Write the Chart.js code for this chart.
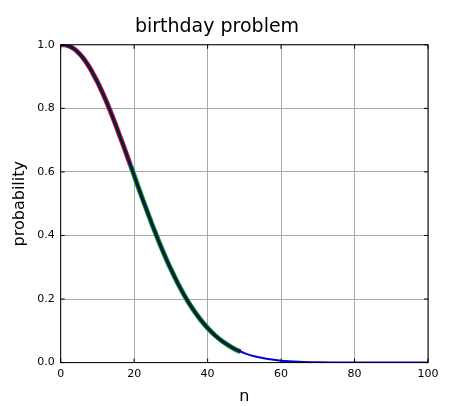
<!DOCTYPE html>
<html><head><script src="https://cdn.jsdelivr.net/npm/chart.js@4"></script>
<style>body{margin:0;background:#fff}#w{width:474px;height:406px}</style></head>
<body><div id="w"><canvas id="c"></canvas></div>
<script>
const nValues = [0,1,2,3,4,5,6,7,8,9,10,11,12,13,14,15,16,17,18,19,20,21,22,23,24,25,26,27,28,29,30,32,34,36,38,40,42,44,46,48,49,50,53,56,60,65,70,80,90,100];
const probValues = [1,1,0.997,0.992,0.984,0.973,0.960,0.944,0.926,0.905,0.883,0.859,0.833,0.806,0.777,0.747,0.716,0.685,0.653,0.621,0.589,0.556,0.524,0.493,0.462,0.431,0.402,0.373,0.346,0.319,0.294,0.247,0.205,0.168,0.136,0.109,0.086,0.067,0.052,0.039,0.035,0.030,0.019,0.012,0.0059,0.0023,0.0008,0.0001,0,0];
const xTicks = [0,20,40,60,80,100];
const pts = nValues.map((x,i)=>({x:x,y:probValues[i]}));
const seg = (a,b)=>pts.filter(p=>p.x>=a&&p.x<=b);
const frame={id:'frame',afterDatasetsDraw(c){const a=c.chartArea,g=c.ctx;g.save();g.strokeStyle='#000';g.lineWidth=1;g.strokeRect(a.left,a.top,a.right-a.left,a.bottom-a.top);
g.beginPath();const xs=c.scales.x,ys=c.scales.y;
xTicks.forEach(t=>{const px=xs.getPixelForValue(t);g.moveTo(px,a.bottom);g.lineTo(px,a.bottom-4);g.moveTo(px,a.top);g.lineTo(px,a.top+4);});
[0,0.2,0.4,0.6,0.8,1].forEach(t=>{const py=ys.getPixelForValue(t);g.moveTo(a.left,py);g.lineTo(a.left+4,py);g.moveTo(a.right,py);g.lineTo(a.right-4,py);});
g.stroke();g.restore();}};
const common={showLine:true,pointRadius:0,cubicInterpolationMode:'monotone'};
new Chart(document.getElementById('c'),{type:'scatter',
data:{datasets:[
{...common,data:seg(0,19),borderColor:'#d62020',borderWidth:5,order:4},
{...common,data:seg(19,49),borderColor:'#10a010',borderWidth:5,order:3},
{...common,data:pts,borderColor:'#0000e0',borderWidth:2,order:2},
{...common,data:seg(0,49),borderColor:'#0a1a50',borderWidth:3,order:1}]},
options:{responsive:true,maintainAspectRatio:false,animation:false,
layout:{padding:{left:6,right:46,top:0,bottom:0}},
plugins:{legend:{display:false},tooltip:{enabled:false},
title:{display:true,text:'birthday problem',color:'#000',font:{family:'DejaVu Sans',size:19,weight:'normal'},padding:{top:16,bottom:6}}},
scales:{
x:{type:'linear',min:0,max:100,afterBuildTicks:s=>{s.ticks=xTicks.map(v=>({value:v}));},
grid:{color:'#aaa',drawTicks:false,borderDash:[2,3]},border:{display:false},
ticks:{color:'#000',font:{family:'DejaVu Sans',size:11},padding:5,maxRotation:0},
title:{display:true,text:'n',color:'#000',font:{family:'DejaVu Sans',size:16},padding:{top:1,bottom:0}}},
y:{min:0,max:1,ticks:{stepSize:0.2,color:'#000',font:{family:'DejaVu Sans',size:11},padding:6,callback:v=>v.toFixed(1)},
grid:{color:'#aaa',drawTicks:false,borderDash:[2,3]},border:{display:false},
title:{display:true,text:'probability',color:'#000',font:{family:'DejaVu Sans',size:16},padding:{bottom:2}}}}},
plugins:[frame]});
</script>
</body></html>
